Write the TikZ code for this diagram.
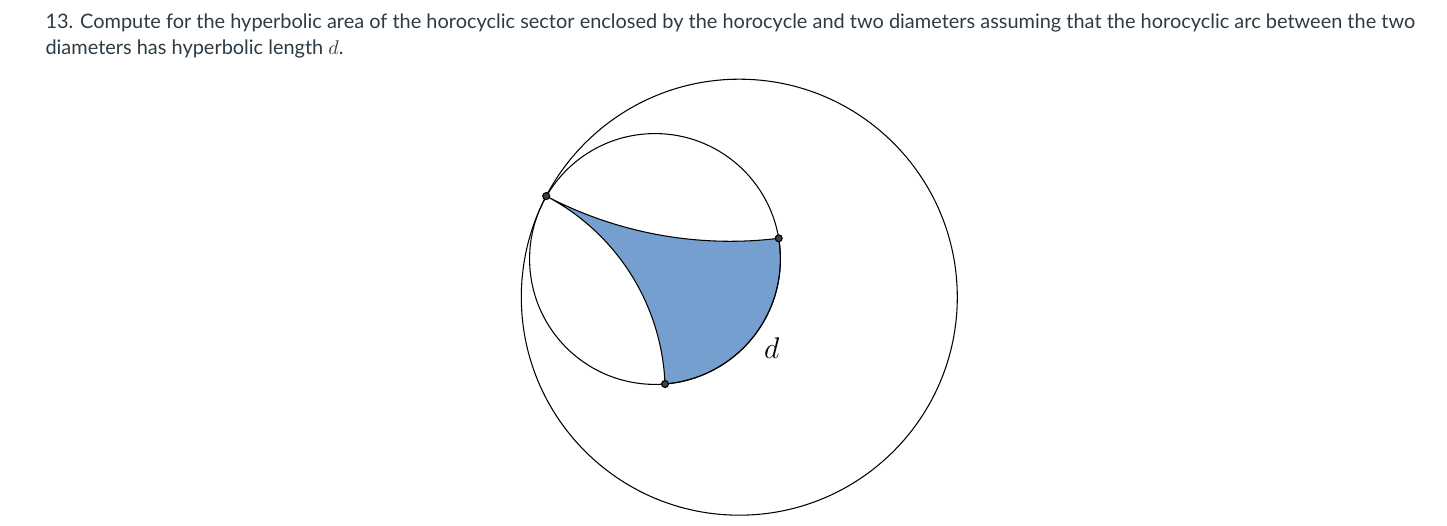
\documentclass[tikz,border=0pt]{standalone}
\usepackage{fontspec}
\setmainfont{Lato}
\usepackage{fix-cm}
\definecolor{sector}{RGB}{116,159,207}
\definecolor{textgray}{RGB}{45,59,69}
\begin{document}
\begin{tikzpicture}[x = 0.02cm, y = 0.02cm, line width = 0.6pt]
        \useasboundingbox (0,0) rectangle (1447,526);
        \node[anchor = base west, inner sep = 0, align = left, text = textgray, font = \fontsize{11.35}{15.3}\selectfont] (question) at (45,471)
            {13. Compute for the hyperbolic area of the horocyclic sector enclosed by the horocycle and two diameters assuming that the horocyclic arc between the two\\ diameters has hyperbolic length $d$.};
        \coordinate (O) at (739.3,228.8);
        \coordinate (H) at (655,267);
        \coordinate (P) at (546.2,329.9);
        \coordinate (A) at (778.7,287.7);
        \coordinate (B) at (665,142);
        \draw[fill = sector] (P) arc[start angle = -117.63, end angle = -82.94, radius = 396.3]
            arc[start angle = 9.50, end angle = -85.43, radius = 125.4]
            arc[start angle = 2.25, end angle = 62.37, radius = 221.9] -- cycle;
        \draw (O) circle[radius = 218];
        \draw (H) circle[radius = 125.4];
        \begin{scope}[fill = black!75]
            \draw[fill] (P) circle[radius = 3.5];
            \draw[fill] (A) circle[radius = 3.5];
            \draw[fill] (B) circle[radius = 3.5];
        \end{scope}
        \node[font = \fontsize{17}{19}\selectfont] (dlabel) at (771.7,177.7) {$d$};
    \end{tikzpicture}
\end{document}
